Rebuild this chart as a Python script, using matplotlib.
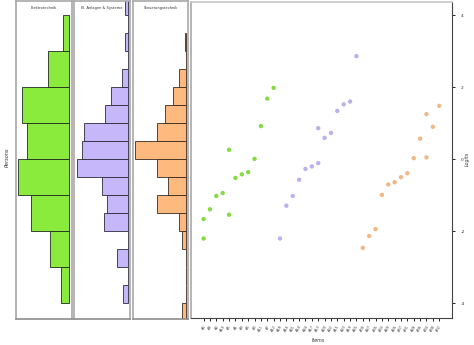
import matplotlib
matplotlib.use("Agg")
import matplotlib.pyplot as plt
import numpy as np

# ---------------- data ----------------
panel_titles = ["Elektrotechnik", "El. Anlagen & Systeme", "Steuerungstechnik"]

# person histograms (bin lower edges, frequencies)
green_bins = [-4, -3, -2, -1, 0, 1, 2, 3]
green_freq = [8.6, 19.3, 38.3, 51, 42, 47.6, 21.6, 6]
green_width = 1.0

purple_bins = [-4, -3.5, -3, -2.5, -2, -1.5, -1, -0.5, 0, 0.5, 1, 1.5, 2, 2.5, 3, 3.5, 4]
purple_freq = [5, 0, 11, 0, 24.3, 21.6, 26, 51.6, 46, 44.3, 23.3, 17.3, 6, 0, 3.3, 0, 3.3]
purple_width = 0.5

orange_bins = [-4.5, -4, -3.5, -3, -2.5, -2, -1.5, -1, -0.5, 0, 0.5, 1, 1.5, 2, 2.5, 3]
orange_freq = [4.5, 0, 0, 0, 4.3, 6.7, 29.3, 18.3, 29.3, 51, 29.3, 21, 12.7, 6.7, 0, 1.2]
orange_width = 0.5

# items
item_labels = ["A6", "A8", "A2", "A10", "A5", "A1", "A9", "A4", "A3", "A11", "A7", "A12",
               "A18", "A16", "A21", "A14", "A24", "A17", "A13", "A20", "A22", "A15", "A23", "A19", "A25",
               "A30", "A27", "A35", "A33", "A29", "A26", "A37", "A31", "A28", "A36", "A34", "A38", "A32"]

green_items = [0, 0, 1, 2, 3, 4, 4, 5, 6, 7, 8, 9, 10, 11]
green_logits = [-2.20, -1.66, -1.39, -1.02, -0.94, 0.26, -1.54, -0.52, -0.42, -0.36, 0.01, 0.92, 1.68, 1.98]

purple_items = [12, 13, 14, 15, 16, 17, 18, 18, 19, 20, 21, 22, 23, 24]
purple_logits = [-2.20, -1.29, -1.02, -0.57, -0.27, -0.20, -0.11, 0.86, 0.59, 0.73, 1.34, 1.52, 1.60, 2.86]

orange_items = [25, 26, 27, 28, 29, 30, 31, 32, 33, 34, 35, 35, 36, 37]
orange_logits = [-2.46, -2.13, -1.94, -0.99, -0.70, -0.64, -0.50, -0.39, 0.03, 0.57, 1.25, 0.05, 0.90, 1.48]

yticks = [-4, -2, 0, 2, 4]

# ---------------- style ----------------
bar_colors = ["#8BEB3C", "#C6B6FA", "#FDB97E"]
pt_colors = ["#86DB45", "#BDB0EC", "#F0B888"]
border = "#a8a8a8"

W, H = 474, 345
fig = plt.figure(figsize=(W / 100, H / 100), dpi=100)

def fax(x0, y0, x1, y1):
    return fig.add_axes([x0 / W, 1 - y1 / H, (x1 - x0) / W, (y1 - y0) / H])

zero_px = 159.2
px_per = 36.04
def logit(ypx):
    return (zero_px - ypx) / px_per

panels = [(15.7, 71.7, 2.4), (74.0, 130.0, 1.7), (132.7, 188.3, 2.3)]
hist = [(green_bins, green_freq, green_width),
        (purple_bins, purple_freq, purple_width),
        (orange_bins, orange_freq, orange_width)]

ptop, pbot = 0.8, 319.3
for i, ((x0, x1, pad), (bins, freq, w)) in enumerate(zip(panels, hist)):
    ax = fax(x0, ptop, x1, pbot)
    ax.barh(bins, freq, height=w, align="edge", left=0, color=bar_colors[i],
            edgecolor="#1e2a1e" if i == 0 else "#2a2a3a" if i == 1 else "#3a2a1e", linewidth=0.6)
    width = x1 - x0
    ax.set_xlim(width - pad, -pad)
    ax.set_ylim(logit(pbot), logit(ptop))
    ax.set_xticks([]); ax.set_yticks([])
    for s in ax.spines.values():
        s.set_color(border); s.set_linewidth(1.2)
    ax.spines["bottom"].set_color("#8c8c8c")
    ax.text(0.5, 0.978, panel_titles[i], transform=ax.transAxes, ha="center", va="center",
            fontsize=2.6, color="#333333")

fig.text(7 / W, 1 - 157 / H, "Persons", rotation=90, ha="center", va="center",
         fontsize=3.6, style="italic", color="#333333")

# main item panel
mx0, mx1, my0, my1 = 191.0, 452.0, 2.0, 318.0
ax = fax(mx0, my0, mx1, my1)
for items, logits, c in [(green_items, green_logits, pt_colors[0]),
                         (purple_items, purple_logits, pt_colors[1]),
                         (orange_items, orange_logits, pt_colors[2])]:
    ax.scatter(items, logits, s=10, color=c, edgecolors="none", zorder=3)

x_first, x_last = 203.6, 439.2
ppu = (x_last - x_first) / 37
ax.set_xlim(-(x_first - mx0) / ppu, 37 + (mx1 - x_last) / ppu)
ax.set_ylim(logit(my1), logit(my0))
ax.set_xticks(range(len(item_labels)))
ax.set_xticklabels(item_labels, rotation=60, ha="right", va="top",
                   rotation_mode="anchor", fontsize=2.6, color="#444444")
ax.tick_params(axis="x", length=2.5, width=0.7, color="#222222", pad=2)
ax.yaxis.tick_right()
ax.yaxis.set_label_position("right")
ax.set_yticks(yticks)
ax.set_yticklabels([str(v) for v in yticks], fontsize=3.2, color="#333333")
ax.tick_params(axis="y", length=2.5, width=0.7, color="#222222", pad=4)
ax.spines["left"].set_color(border); ax.spines["left"].set_linewidth(1.2)
ax.spines["top"].set_color("#c8c8c8"); ax.spines["top"].set_linewidth(1.2)
ax.spines["right"].set_color("#444444"); ax.spines["right"].set_linewidth(0.8)
ax.spines["bottom"].set_color("#444444"); ax.spines["bottom"].set_linewidth(0.8)

fig.text(318 / W, 1 - 341 / H, "Items", ha="center", va="center", fontsize=3.4,
         style="italic", color="#333333")
fig.text(467 / W, 1 - 159 / H, "Logits", rotation=90, ha="center", va="center",
         fontsize=3.4, style="italic", color="#333333")

fig.savefig("out.png", dpi=100)
